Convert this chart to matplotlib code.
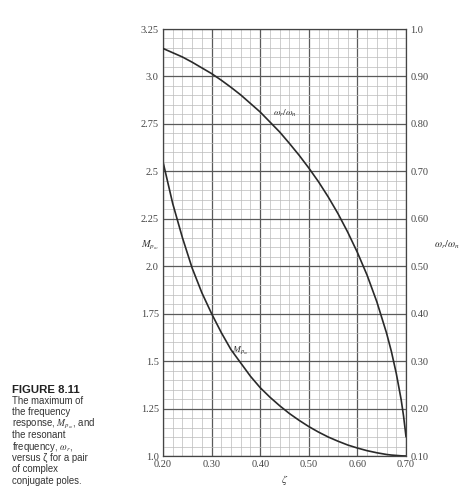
import matplotlib.pyplot as plt
import numpy as np

# damping ratio and values
zeta = [0.20, 0.22, 0.24, 0.26, 0.28, 0.30, 0.32, 0.34, 0.36, 0.38,
        0.40, 0.42, 0.44, 0.46, 0.48, 0.50, 0.52, 0.54, 0.56, 0.58,
        0.60, 0.62, 0.64, 0.66, 0.67, 0.68, 0.69, 0.695, 0.70]
mp = [2.55, 2.33, 2.15, 1.99, 1.86, 1.75, 1.65, 1.56, 1.49, 1.42,
      1.36, 1.31, 1.265, 1.224, 1.188, 1.155, 1.126, 1.100, 1.078, 1.058,
      1.042, 1.028, 1.017, 1.008, 1.005, 1.003, 1.001, 1.0005, 1.000]
wr = [0.959, 0.950, 0.941, 0.930, 0.918, 0.906, 0.892, 0.877, 0.861, 0.843,
      0.825, 0.804, 0.783, 0.759, 0.734, 0.707, 0.678, 0.646, 0.611, 0.572,
      0.529, 0.481, 0.425, 0.359, 0.320, 0.274, 0.219, 0.184, 0.141]

x_ticks = [0.20, 0.30, 0.40, 0.50, 0.60, 0.70]
x_labels = ['0.20', '0.30', '0.40', '0.50', '0.60', '0.70']
left_ticks = [1.0, 1.25, 1.5, 1.75, 2.0, 2.25, 2.5, 2.75, 3.0, 3.25]
left_labels = ['1.0', '1.25', '1.5', '1.75', '2.0', '2.25', '2.5', '2.75', '3.0', '3.25']
right_ticks = [0.1, 0.2, 0.3, 0.4, 0.5, 0.6, 0.7, 0.8, 0.9, 1.0]
right_labels = ['0.10', '0.20', '0.30', '0.40', '0.50', '0.60', '0.70', '0.80', '0.90', '1.0']

caption = ['The maximum of', 'the frequency', r'response, $M_{p_\omega}$, and',
           'the resonant', r'frequency, $\omega_r$,', 'versus ζ for a pair',
           'of complex', 'conjugate poles.']

plt.rcParams['font.family'] = 'Liberation Serif'
plt.rcParams['mathtext.fontset'] = 'stix'

fig = plt.figure(figsize=(4.74, 5.03), dpi=100)
ax = fig.add_axes([163 / 474, 1 - 456 / 503, 243 / 474, 427 / 503])

ax.set_xlim(0.2, 0.7)
ax.set_ylim(1.0, 3.25)

# graph-paper grid
for v in np.arange(0.2, 0.7001, 0.02):
    major = abs(round(v * 10) - v * 10) < 1e-6
    ax.axvline(v, color='#5a5a5a' if major else '#bbbbbb',
               lw=0.9 if major else 0.5, zorder=0)
for v in np.arange(1.0, 3.2501, 0.05):
    major = abs(round(v * 4) - v * 4) < 1e-6
    ax.axhline(v, color='#5a5a5a' if major else '#bbbbbb',
               lw=0.9 if major else 0.5, zorder=0)

ax.plot(zeta, mp, color='#2a2a2a', lw=1.2)

ax.set_xticks(x_ticks)
ax.set_xticklabels(x_labels)
ax.set_yticks(left_ticks)
ax.set_yticklabels(left_labels)
ax.tick_params(length=0, labelsize=7.5, colors='#444444', pad=3)
for s in ax.spines.values():
    s.set_color('#444444')
    s.set_linewidth(0.9)

ax2 = ax.twinx()
ax2.set_ylim(0.1, 1.0)
ax2.plot(zeta, wr, color='#2a2a2a', lw=1.2)
ax2.set_yticks(right_ticks)
ax2.set_yticklabels(right_labels)
ax2.tick_params(length=0, labelsize=7.5, colors='#444444', pad=3)
for s in ax2.spines.values():
    s.set_visible(False)

ax.text(0.426, 2.79, r'$\omega_r/\omega_n$', fontsize=6.8, color='#333333')
ax.text(0.342, 1.55, r'$M_{p_\omega}$', fontsize=6.8, color='#333333')

fig.text(150 / 474, 1 - 245 / 503, r'$M_{p_\omega}$', fontsize=7.5,
         ha='center', va='center', color='#333333')
fig.text(447 / 474, 1 - 245 / 503, r'$\omega_r/\omega_n$', fontsize=7.5,
         ha='center', va='center', color='#333333')
fig.text(285 / 474, 1 - 480 / 503, r'$\zeta$', fontsize=8,
         ha='center', va='center', color='#333333')

fig.text(12 / 474, 1 - 393 / 503, 'FIGURE 8.11', fontsize=8.2,
         fontweight='bold', family='Liberation Sans', va='baseline', color='#222222')
for i, line in enumerate(caption):
    fig.text(12 / 474, 1 - (404 + i * 11.4) / 503, line, fontsize=6.9,
             family='Liberation Sans', va='baseline', color='#333333')

fig.savefig('out.png', dpi=100)
